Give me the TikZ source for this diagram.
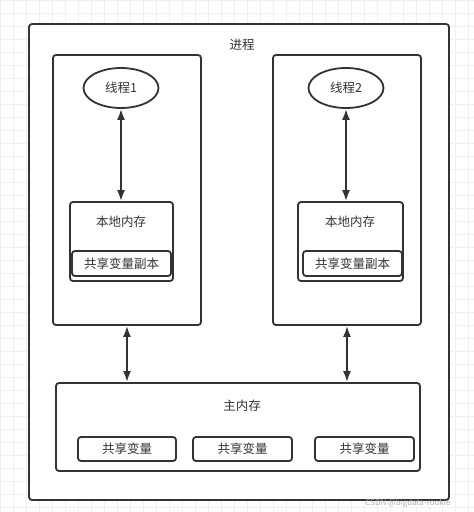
\documentclass[tikz,border=0pt]{standalone}
\usepackage{fontspec}
\setmainfont{Noto Sans CJK SC}
\usepackage{xcolor}
\usetikzlibrary{
    shapes.geometric,
    arrows.meta,
    positioning,
    calc
}
\definecolor{linegray}{RGB}{51, 51, 51}
\definecolor{gridgray}{RGB}{240, 240, 240}

\begin{document}
\begin{tikzpicture}[
        x=1pt, y=-1pt,
        box/.style={draw=linegray, line width=1.8pt, rounded corners=3pt, fill=white, inner sep=0pt},
        txt/.style={text=linegray, font=\fontsize{12.5}{14}\selectfont, inner sep=0pt},
        arrow/.style={{Latex[length=11pt,width=8pt]}-{Latex[length=11pt,width=8pt]}, line width=2pt, draw=linegray}
    ]
        \useasboundingbox (0,0) rectangle (474,512);
        \draw[gridgray, line width=0.5pt, step=13pt] (0,0) grid (474,512);

        % Process
        \node[box, minimum width=420pt, minimum height=476pt] (proc) at (239, 262) {};
        \node[txt] (proclbl) at (242, 45) {进程};

        % Threads
        \node[box, minimum width=148pt, minimum height=270pt] (th1) at (127, 190) {};
        \node[box, minimum width=148pt, minimum height=270pt] (th2) at (347, 190) {};
        \node[box, ellipse, rounded corners=0pt, minimum width=75pt, minimum height=40pt, txt] (t1) at (121, 88) {线程1};
        \node[box, ellipse, rounded corners=0pt, minimum width=75pt, minimum height=40pt, txt] (t2) at (346, 88) {线程2};

        % Local memory
        \node[box, minimum width=103pt, minimum height=79pt] (loc1) at (121.5, 241.5) {};
        \node[box, minimum width=105pt, minimum height=79pt] (loc2) at (350.5, 241.5) {};
        \node[txt] (loc1lbl) at (121, 222) {本地内存};
        \node[txt] (loc2lbl) at (350, 222) {本地内存};
        \node[box, txt, minimum width=99pt, minimum height=25pt] (copy1) at (121.5, 263.5) {共享变量副本};
        \node[box, txt, minimum width=99pt, minimum height=25pt] (copy2) at (352.5, 263.5) {共享变量副本};

        % Main memory
        \node[box, minimum width=364pt, minimum height=88pt] (main) at (238, 427) {};
        \node[txt] (mainlbl) at (242, 406) {主内存};
        \node[box, txt, minimum width=98pt, minimum height=24pt] (var1) at (127, 449) {共享变量};
        \node[box, txt, minimum width=99pt, minimum height=24pt] (var2) at (242.5, 449) {共享变量};
        \node[box, txt, minimum width=99pt, minimum height=24pt] (var3) at (364.5, 449) {共享变量};

        % Arrows
        \draw[arrow] (t1.south) -- (t1.south |- loc1.north);
        \draw[arrow] (t2.south) -- (t2.south |- loc2.north);
        \draw[arrow] (th1.south) -- (th1.south |- main.north);
        \draw[arrow] (th2.south) -- (th2.south |- main.north);

        % Watermark
        \node[text=black!30, font=\fontsize{8}{9}\selectfont, inner sep=0pt] (mark) at (408, 503) {CSDN @bigdata-rookie};
    \end{tikzpicture}
\end{document}
